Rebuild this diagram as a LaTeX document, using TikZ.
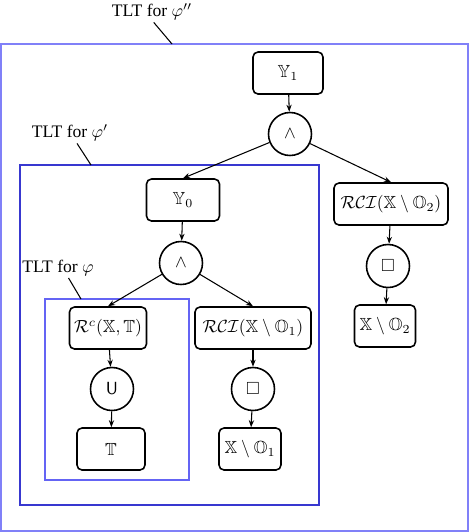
\documentclass[tikz,border=0pt]{standalone}
\usepackage{amsmath,amssymb}
\usepackage{fontspec}
\setmainfont{Liberation Serif}
\usepackage{xcolor}
\definecolor{frameOuter}{HTML}{8080F8}
\definecolor{frameMid}{HTML}{3838D0}
\definecolor{frameInner}{HTML}{6464F4}
\usetikzlibrary{arrows.meta,positioning}
\tikzset{
    tltbox/.style={
        draw=black,
        rectangle,
        rounded corners=1mm,
        align=center,
        minimum height=0.84cm,
        line width=0.9pt,
        inner sep=2pt
    },
    opnode/.style={
        draw=black,
        circle,
        minimum size=0.86cm,
        inner sep=0pt,
        line width=0.9pt
    },
    arrow/.style={
        -{Stealth[length=4pt,width=3pt]},
        line width=0.6pt
    },
    frame/.style={
        line width=1pt
    },
    tag/.style={
        inner sep=1pt
    }
}

\begin{document}
\begin{tikzpicture}[x=0.02cm,y=-0.02cm]
    \useasboundingbox (0,0) rectangle (474,532);

    % Frames
    \draw[frame, color=frameOuter] (1,44) rectangle (468,531);
    \draw[frame, color=frameMid] (20,165) rectangle (319,505);
    \draw[frame, color=frameInner] (45,299) rectangle (189,480);

    % Frame labels
    \node[tag] (tagB) at (152,12) {TLT for $\varphi''$};
    \node[tag] (tagA) at (70,133) {TLT for $\varphi'$};
    \node[tag] (tagO) at (58,268) {TLT for $\varphi$};
    \coordinate (hitB) at (172,44);
    \coordinate (hitA) at (91,165);
    \coordinate (hitO) at (81,299);
    \draw[line width=0.6pt] ([xshift=1pt]tagB.south) -- (hitB);
    \draw[line width=0.6pt] ([xshift=4pt]tagA.south) -- (hitA);
    \draw[line width=0.6pt] ([xshift=6pt]tagO.south) -- (hitO);

    % Top level
    \node[tltbox, minimum width=1.4cm] (Y1) at (288,73) {$\mathbb{Y}_1$};
    \node[opnode] (and1) at (290,134) {$\wedge$};

    % Left branch
    \node[tltbox, minimum width=1.46cm] (Y0) at (183,200) {$\mathbb{Y}_0$};
    \node[opnode] (and0) at (181,263) {$\wedge$};
    \node[tltbox, minimum width=1.54cm] (Rc) at (108,328) {$\mathcal{R}^c(\mathbb{X},\mathbb{T})$};
    \node[opnode] (until) at (112,389) {$\mathsf{U}$};
    \node[tltbox, minimum width=1.36cm] (T) at (111,449) {$\mathbb{T}$};
    \node[tltbox, minimum width=2.32cm] (RCIa) at (253,328) {$\mathcal{RCI}(\mathbb{X}\setminus\mathbb{O}_1)$};
    \node[opnode] (boxa) at (253,389) {$\Box$};
    \node[tltbox, minimum width=1.24cm] (XOa) at (250,449) {$\mathbb{X}\setminus\mathbb{O}_1$};

    % Right branch
    \node[tltbox, minimum width=2.28cm] (RCIb) at (391,204) {$\mathcal{RCI}(\mathbb{X}\setminus\mathbb{O}_2)$};
    \node[opnode] (boxb) at (388,266) {$\Box$};
    \node[tltbox, minimum width=1.22cm] (XOb) at (385,326) {$\mathbb{X}\setminus\mathbb{O}_2$};

    % Arrows
    \draw[arrow] (Y1) -- (and1);
    \draw[arrow] (and1) -- (Y0.north);
    \draw[arrow] (and1) -- (RCIb.north);
    \draw[arrow] (Y0) -- (and0);
    \draw[arrow] (and0) -- (Rc.north);
    \draw[arrow] (and0) -- (RCIa.north);
    \draw[arrow] (Rc) -- (until);
    \draw[arrow] (until) -- (T);
    \draw[arrow] (RCIa) -- (boxa);
    \draw[arrow] (boxa) -- (XOa);
    \draw[arrow] (RCIb) -- (boxb);
    \draw[arrow] (boxb) -- (XOb);
\end{tikzpicture}
\end{document}
